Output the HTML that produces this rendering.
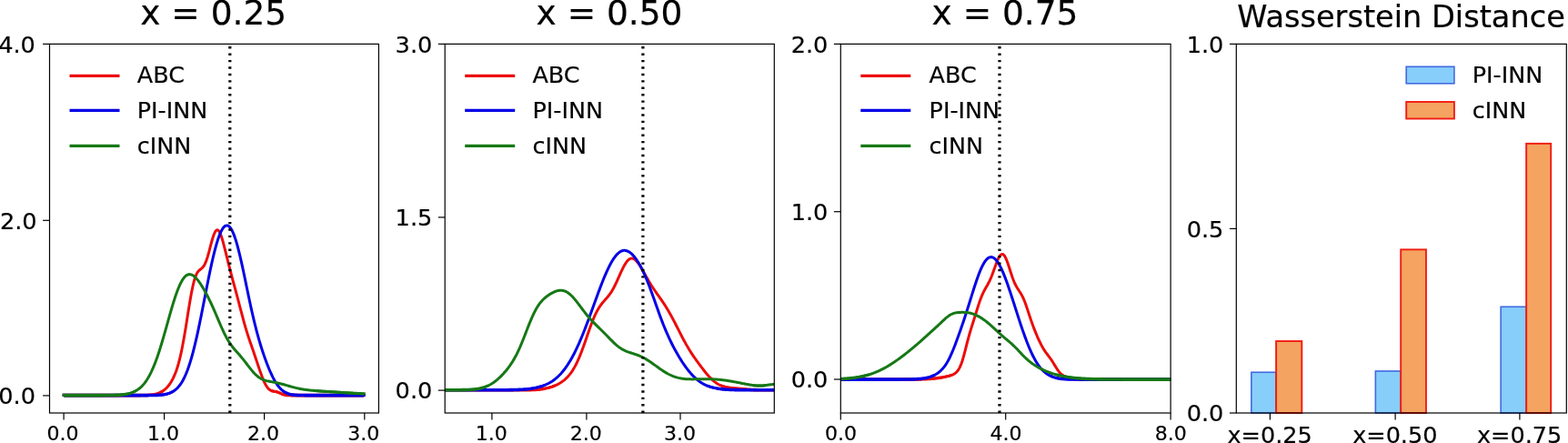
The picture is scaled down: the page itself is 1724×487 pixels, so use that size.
<!DOCTYPE html>
<html lang="en"><head><meta charset="utf-8"><title>Wasserstein Distance</title>
<style>html,body{margin:0;padding:0;background:#fff;overflow:hidden}svg{display:block}</style></head>
<body>
<svg width="1724" height="487" viewBox="0 0 1724 487" font-family='"DejaVu Sans","Liberation Sans",sans-serif' fill="#000">
<style>text{stroke:#000;stroke-width:0.2px;paint-order:stroke fill}</style>
<defs><clipPath id="c0"><rect x="54.5" y="48.4" width="361.90" height="405.60"/></clipPath><clipPath id="c1"><rect x="489.2" y="48.4" width="362.10" height="405.60"/></clipPath><clipPath id="c2"><rect x="924.3" y="48.4" width="362.80" height="405.60"/></clipPath><clipPath id="c3"><rect x="1359.3" y="48.4" width="363.00" height="405.60"/></clipPath></defs>
<rect width="1724" height="487" fill="#fff"/>
<path d="M70.2,434.90 L149.2,434.90 L150.2,434.89 L152.2,434.89 L153.2,434.88 L154.2,434.88 L155.2,434.87 L156.2,434.86 L157.2,434.85 L158.2,434.84 L159.2,434.82 L160.2,434.79 L161.2,434.76 L162.2,434.73 L163.2,434.67 L164.2,434.61 L165.2,434.53 L166.2,434.43 L167.2,434.32 L168.2,434.18 L169.2,434.00 L170.2,433.78 L171.2,433.52 L172.2,433.20 L173.2,432.84 L174.2,432.44 L175.2,431.97 L176.2,431.47 L177.2,430.93 L178.2,430.35 L179.2,429.70" fill="none" stroke="#ec0c0c" stroke-width="3.0" stroke-linejoin="round" stroke-linecap="butt" clip-path="url(#c0)"/>
<path d="M298.2,429.46 L299.2,429.80 L300.2,430.04 L301.2,430.22 L302.2,430.38 L303.2,430.57 L304.2,430.81 L305.2,431.11 L306.2,431.48 L307.2,431.93 L308.2,432.40 L309.2,432.89 L310.2,433.36 L311.2,433.77 L312.2,434.10 L313.2,434.34 L314.2,434.53 L315.2,434.65 L316.2,434.75 L317.2,434.80 L318.2,434.84 L319.2,434.86 L320.2,434.88 L321.2,434.88 L322.2,434.89 L324.2,434.89 L325.2,434.90 L400.2,434.90" fill="none" stroke="#ec0c0c" stroke-width="3.0" stroke-linejoin="round" stroke-linecap="butt" clip-path="url(#c0)"/>
<path d="M70.2,434.30 L152.2,434.29 L153.2,434.28 L156.2,434.26 L158.2,434.24 L159.2,434.22 L160.2,434.19 L161.2,434.16 L162.2,434.13 L163.2,434.08 L164.2,434.02 L165.2,433.95 L166.2,433.86 L167.2,433.76 L168.2,433.64 L169.2,433.49 L170.2,433.31 L171.2,433.10 L172.2,432.85 L173.2,432.56 L174.2,432.23 L175.2,431.84 L176.2,431.40 L177.2,430.90 L178.2,430.34 L179.2,429.70 L180.2,428.98 L181.2,428.18 L182.2,427.30 L183.2,426.32 L184.2,425.24 L185.2,424.05 L186.2,422.74 L187.2,421.31 L188.2,419.73 L189.2,418.01 L190.2,416.11 L191.2,414.02 L192.2,411.72 L193.2,409.18 L194.2,406.38 L195.2,403.29 L196.2,399.89 L197.2,396.14 L198.2,392.05 L199.2,387.58 L200.2,382.75 L201.2,377.56 L202.2,372.03 L203.2,366.21 L204.2,360.14 L205.2,353.92 L206.2,347.60 L207.2,341.31 L208.2,335.13 L209.2,329.19 L210.2,323.59 L211.2,318.42 L212.2,313.76 L213.2,309.68 L214.2,306.22 L215.2,303.36 L216.2,301.09 L217.2,299.34 L218.2,298.03 L219.2,297.03 L220.2,296.23 L221.2,295.47 L222.2,294.64 L223.2,293.58 L224.2,292.21 L225.2,290.43 L226.2,288.21 L227.2,285.54 L228.2,282.44 L229.2,278.98 L230.2,275.28 L231.2,271.44 L232.2,267.62 L233.2,263.98 L234.2,260.65 L235.2,257.78 L236.2,255.48 L237.2,253.86 L238.2,252.97 L239.2,252.84 L240.2,253.46 L241.2,254.80 L242.2,256.81 L243.2,259.39 L244.2,262.46 L245.2,265.91 L246.2,269.65 L247.2,273.58 L248.2,277.62 L249.2,281.69 L250.2,285.76 L251.2,289.77 L252.2,293.71 L253.2,297.58 L254.2,301.37 L255.2,305.11 L256.2,308.81 L257.2,312.49 L258.2,316.17 L259.2,319.88 L260.2,323.61 L261.2,327.38 L262.2,331.18 L263.2,335.01 L264.2,338.84 L265.2,342.66 L266.2,346.45 L267.2,350.18 L268.2,353.82 L269.2,357.37 L270.2,360.82 L271.2,364.14 L272.2,367.35 L273.2,370.46 L274.2,373.48 L275.2,376.43 L276.2,379.33 L277.2,382.21 L278.2,385.09 L279.2,388.00 L280.2,390.93 L281.2,393.90 L282.2,396.89 L283.2,399.91 L284.2,402.92 L285.2,405.89 L286.2,408.81 L287.2,411.62 L288.2,414.31 L289.2,416.84 L290.2,419.17 L291.2,421.30 L292.2,423.19 L293.2,424.83 L294.2,426.23 L295.2,427.37 L296.2,428.28 L297.2,428.96 L298.2,429.46 L299.2,429.80 L300.2,430.03 L301.2,430.21 L302.2,430.37 L303.2,430.55 L304.2,430.78 L305.2,431.07 L306.2,431.41 L307.2,431.80 L308.2,432.20 L309.2,432.60 L310.2,432.97 L311.2,433.30 L312.2,433.57 L313.2,433.78 L314.2,433.95 L315.2,434.06 L316.2,434.15 L317.2,434.20 L318.2,434.24 L319.2,434.26 L320.2,434.28 L321.2,434.28 L322.2,434.29 L400.2,434.30" fill="none" stroke="#ec0c0c" stroke-width="3.0" stroke-linejoin="round" stroke-linecap="square" clip-path="url(#c0)"/>
<path d="M70.2,434.90 L155.2,434.90 L156.2,434.89 L160.2,434.89 L161.2,434.88 L162.2,434.88 L163.2,434.87 L164.2,434.87 L165.2,434.86 L166.2,434.85 L167.2,434.83 L168.2,434.82 L169.2,434.80 L170.2,434.78 L171.2,434.75 L172.2,434.72 L173.2,434.67 L174.2,434.62 L175.2,434.55 L176.2,434.48 L177.2,434.39 L178.2,434.28 L179.2,434.15 L180.2,433.99 L181.2,433.80 L182.2,433.58 L183.2,433.32 L184.2,433.02 L185.2,432.67 L186.2,432.28 L187.2,431.85 L188.2,431.37 L189.2,430.86 L190.2,430.30 L191.2,429.68" fill="none" stroke="#0400e6" stroke-width="3.0" stroke-linejoin="round" stroke-linecap="butt" clip-path="url(#c0)"/>
<path d="M311.2,429.73 L312.2,430.43 L313.2,431.06 L314.2,431.64 L315.2,432.17 L316.2,432.64 L317.2,433.05 L318.2,433.41 L319.2,433.71 L320.2,433.95 L321.2,434.14 L322.2,434.31 L323.2,434.43 L324.2,434.53 L325.2,434.61 L326.2,434.67 L327.2,434.73 L328.2,434.77 L329.2,434.80 L330.2,434.82 L331.2,434.84 L332.2,434.85 L333.2,434.86 L334.2,434.87 L335.2,434.88 L336.2,434.88 L337.2,434.89 L340.2,434.89 L341.2,434.90 L400.2,434.90" fill="none" stroke="#0400e6" stroke-width="3.0" stroke-linejoin="round" stroke-linecap="butt" clip-path="url(#c0)"/>
<path d="M70.2,434.30 L160.2,434.29 L161.2,434.28 L165.2,434.26 L166.2,434.25 L167.2,434.23 L168.2,434.22 L169.2,434.20 L170.2,434.18 L171.2,434.15 L172.2,434.12 L173.2,434.08 L174.2,434.03 L175.2,433.97 L176.2,433.90 L177.2,433.82 L178.2,433.73 L179.2,433.62 L180.2,433.48 L181.2,433.33 L182.2,433.15 L183.2,432.94 L184.2,432.70 L185.2,432.42 L186.2,432.10 L187.2,431.73 L188.2,431.31 L189.2,430.83 L190.2,430.29 L191.2,429.68 L192.2,428.98 L193.2,428.20 L194.2,427.33 L195.2,426.36 L196.2,425.28 L197.2,424.08 L198.2,422.75 L199.2,421.29 L200.2,419.69 L201.2,417.95 L202.2,416.04 L203.2,413.97 L204.2,411.74 L205.2,409.33 L206.2,406.74 L207.2,403.96 L208.2,401.01 L209.2,397.86 L210.2,394.53 L211.2,391.01 L212.2,387.32 L213.2,383.44 L214.2,379.40 L215.2,375.18 L216.2,370.82 L217.2,366.31 L218.2,361.66 L219.2,356.90 L220.2,352.04 L221.2,347.08 L222.2,342.06 L223.2,336.98 L224.2,331.86 L225.2,326.74 L226.2,321.61 L227.2,316.52 L228.2,311.47 L229.2,306.48 L230.2,301.59 L231.2,296.80 L232.2,292.14 L233.2,287.62 L234.2,283.27 L235.2,279.10 L236.2,275.13 L237.2,271.38 L238.2,267.86 L239.2,264.59 L240.2,261.57 L241.2,258.83 L242.2,256.37 L243.2,254.20 L244.2,252.34 L245.2,250.80 L246.2,249.57 L247.2,248.67 L248.2,248.10 L249.2,247.87 L250.2,247.98 L251.2,248.42 L252.2,249.21 L253.2,250.34 L254.2,251.80 L255.2,253.59 L256.2,255.70 L257.2,258.13 L258.2,260.86 L259.2,263.88 L260.2,267.18 L261.2,270.73 L262.2,274.52 L263.2,278.53 L264.2,282.73 L265.2,287.10 L266.2,291.61 L267.2,296.24 L268.2,300.97 L269.2,305.76 L270.2,310.59 L271.2,315.44 L272.2,320.27 L273.2,325.07 L274.2,329.81 L275.2,334.48 L276.2,339.06 L277.2,343.54 L278.2,347.90 L279.2,352.14 L280.2,356.25 L281.2,360.23 L282.2,364.09 L283.2,367.81 L284.2,371.41 L285.2,374.88 L286.2,378.24 L287.2,381.49 L288.2,384.64 L289.2,387.68 L290.2,390.63 L291.2,393.49 L292.2,396.26 L293.2,398.94 L294.2,401.54 L295.2,404.04 L296.2,406.45 L297.2,408.77 L298.2,410.99 L299.2,413.11 L300.2,415.12 L301.2,417.02 L302.2,418.80 L303.2,420.48 L304.2,422.03 L305.2,423.47 L306.2,424.79 L307.2,425.99 L308.2,427.08 L309.2,428.07 L310.2,428.95 L311.2,429.73 L312.2,430.42 L313.2,431.02 L314.2,431.55 L315.2,432.01 L316.2,432.40 L317.2,432.73 L318.2,433.01 L319.2,433.25 L320.2,433.45 L321.2,433.61 L322.2,433.75 L323.2,433.86 L324.2,433.95 L325.2,434.02 L326.2,434.08 L327.2,434.13 L328.2,434.17 L329.2,434.20 L330.2,434.22 L331.2,434.24 L333.2,434.26 L335.2,434.28 L336.2,434.28 L337.2,434.29 L400.2,434.30" fill="none" stroke="#0400e6" stroke-width="3.0" stroke-linejoin="round" stroke-linecap="square" clip-path="url(#c0)"/>
<path d="M70.2,434.90 L105.2,434.90 L106.2,434.89 L111.2,434.89 L112.2,434.88 L114.2,434.88 L115.2,434.87 L116.2,434.87 L117.2,434.86 L118.2,434.85 L119.2,434.85 L120.2,434.84 L121.2,434.82 L122.2,434.81 L123.2,434.79 L124.2,434.77 L125.2,434.75 L126.2,434.72 L127.2,434.68 L128.2,434.64 L129.2,434.60 L130.2,434.54 L131.2,434.48 L132.2,434.41 L133.2,434.32 L134.2,434.23 L135.2,434.11 L136.2,433.96 L137.2,433.82 L138.2,433.63 L139.2,433.42 L140.2,433.19 L141.2,432.92 L142.2,432.62 L143.2,432.30 L144.2,431.95 L145.2,431.56 L146.2,431.15 L147.2,430.71 L148.2,430.23 L149.2,429.71" fill="none" stroke="#167816" stroke-width="3.0" stroke-linejoin="round" stroke-linecap="butt" clip-path="url(#c0)"/>
<path d="M344.2,429.36 L345.2,429.45 L346.2,429.54 L347.2,429.62 L348.2,429.70 L349.2,429.77 L350.2,429.84 L351.2,429.91 L352.2,429.99 L353.2,430.06 L354.2,430.13 L355.2,430.19 L356.2,430.26 L357.2,430.32 L358.2,430.38 L359.2,430.44 L360.2,430.52 L361.2,430.58 L362.2,430.64 L363.2,430.70 L364.2,430.77 L365.2,430.83 L366.2,430.89 L367.2,430.95 L368.2,431.02 L369.2,431.08 L370.2,431.16 L371.2,431.22 L372.2,431.29 L373.2,431.35 L374.2,431.42 L375.2,431.48 L376.2,431.55 L377.2,431.61 L378.2,431.67 L379.2,431.74 L380.2,431.81 L381.2,431.88 L382.2,431.95 L383.2,432.01 L384.2,432.08 L385.2,432.15 L386.2,432.21 L387.2,432.28 L388.2,432.34 L389.2,432.41 L390.2,432.47 L391.2,432.55 L392.2,432.61 L393.2,432.67 L394.2,432.73 L395.2,432.79 L396.2,432.85 L397.2,432.92 L398.2,432.98 L399.2,433.03 L400.2,433.09" fill="none" stroke="#167816" stroke-width="3.0" stroke-linejoin="round" stroke-linecap="butt" clip-path="url(#c0)"/>
<path d="M70.2,434.30 L111.2,434.29 L112.2,434.28 L117.2,434.26 L120.2,434.24 L121.2,434.22 L122.2,434.21 L123.2,434.19 L124.2,434.17 L125.2,434.15 L126.2,434.12 L127.2,434.09 L128.2,434.05 L129.2,434.01 L130.2,433.96 L131.2,433.90 L132.2,433.84 L133.2,433.76 L134.2,433.68 L135.2,433.58 L136.2,433.46 L137.2,433.34 L138.2,433.19 L139.2,433.02 L140.2,432.84 L141.2,432.62 L142.2,432.38 L143.2,432.12 L144.2,431.82 L145.2,431.48 L146.2,431.10 L147.2,430.69 L148.2,430.22 L149.2,429.71 L150.2,429.14 L151.2,428.51 L152.2,427.82 L153.2,427.07 L154.2,426.24 L155.2,425.33 L156.2,424.35 L157.2,423.28 L158.2,422.12 L159.2,420.86 L160.2,419.51 L161.2,418.05 L162.2,416.49 L163.2,414.82 L164.2,413.03 L165.2,411.13 L166.2,409.12 L167.2,406.98 L168.2,404.73 L169.2,402.35 L170.2,399.86 L171.2,397.25 L172.2,394.52 L173.2,391.68 L174.2,388.74 L175.2,385.69 L176.2,382.54 L177.2,379.31 L178.2,376.00 L179.2,372.61 L180.2,369.17 L181.2,365.67 L182.2,362.14 L183.2,358.58 L184.2,355.01 L185.2,351.44 L186.2,347.89 L187.2,344.37 L188.2,340.90 L189.2,337.49 L190.2,334.17 L191.2,330.94 L192.2,327.81 L193.2,324.82 L194.2,321.96 L195.2,319.25 L196.2,316.71 L197.2,314.34 L198.2,312.16 L199.2,310.18 L200.2,308.39 L201.2,306.81 L202.2,305.43 L203.2,304.27 L204.2,303.32 L205.2,302.58 L206.2,302.05 L207.2,301.71 L208.2,301.58 L209.2,301.63 L210.2,301.86 L211.2,302.26 L212.2,302.81 L213.2,303.52 L214.2,304.36 L215.2,305.33 L216.2,306.42 L217.2,307.61 L218.2,308.90 L219.2,310.27 L220.2,311.72 L221.2,313.24 L222.2,314.83 L223.2,316.48 L224.2,318.19 L225.2,319.95 L226.2,321.77 L227.2,323.64 L228.2,325.56 L229.2,327.54 L230.2,329.56 L231.2,331.64 L232.2,333.76 L233.2,335.94 L234.2,338.15 L235.2,340.41 L236.2,342.70 L237.2,345.02 L238.2,347.36 L239.2,349.71 L240.2,352.06 L241.2,354.40 L242.2,356.72 L243.2,359.00 L244.2,361.24 L245.2,363.42 L246.2,365.53 L247.2,367.57 L248.2,369.52 L249.2,371.39 L250.2,373.16 L251.2,374.85 L252.2,376.44 L253.2,377.94 L254.2,379.37 L255.2,380.72 L256.2,382.00 L257.2,383.23 L258.2,384.42 L259.2,385.57 L260.2,386.70 L261.2,387.83 L262.2,388.95 L263.2,390.09 L264.2,391.24 L265.2,392.41 L266.2,393.61 L267.2,394.84 L268.2,396.09 L269.2,397.37 L270.2,398.67 L271.2,399.98 L272.2,401.29 L273.2,402.60 L274.2,403.90 L275.2,405.18 L276.2,406.43 L277.2,407.64 L278.2,408.80 L279.2,409.91 L280.2,410.96 L281.2,411.94 L282.2,412.85 L283.2,413.70 L284.2,414.47 L285.2,415.16 L286.2,415.79 L287.2,416.36 L288.2,416.86 L289.2,417.30 L290.2,417.69 L291.2,418.04 L292.2,418.34 L293.2,418.61 L294.2,418.85 L295.2,419.07 L296.2,419.27 L297.2,419.46 L298.2,419.65 L299.2,419.83 L300.2,420.01 L301.2,420.19 L302.2,420.38 L303.2,420.57 L304.2,420.78 L305.2,420.99 L306.2,421.22 L307.2,421.46 L308.2,421.70 L309.2,421.96 L310.2,422.22 L311.2,422.49 L312.2,422.77 L313.2,423.06 L314.2,423.34 L315.2,423.63 L316.2,423.92 L317.2,424.21 L318.2,424.50 L319.2,424.79 L320.2,425.07 L321.2,425.34 L322.2,425.61 L323.2,425.88 L324.2,426.13 L325.2,426.38 L326.2,426.61 L327.2,426.84 L328.2,427.06 L329.2,427.27 L330.2,427.47 L331.2,427.66 L332.2,427.84 L333.2,428.01 L334.2,428.17 L335.2,428.32 L336.2,428.46 L337.2,428.60 L338.2,428.73 L339.2,428.85 L340.2,428.96 L341.2,429.07 L342.2,429.17 L343.2,429.27 L344.2,429.36 L345.2,429.45 L346.2,429.54 L347.2,429.62 L348.2,429.70 L349.2,429.77 L350.2,429.84 L351.2,429.91 L352.2,429.98 L353.2,430.05 L354.2,430.12 L355.2,430.18 L356.2,430.25 L357.2,430.31 L358.2,430.37 L359.2,430.43 L360.2,430.50 L361.2,430.56 L362.2,430.62 L363.2,430.68 L364.2,430.74 L365.2,430.80 L366.2,430.86 L367.2,430.92 L368.2,430.98 L369.2,431.04 L370.2,431.11 L371.2,431.17 L372.2,431.23 L373.2,431.29 L374.2,431.35 L375.2,431.41 L376.2,431.47 L377.2,431.52 L378.2,431.58 L379.2,431.64 L380.2,431.70 L381.2,431.76 L382.2,431.82 L383.2,431.87 L384.2,431.93 L385.2,431.99 L386.2,432.04 L387.2,432.10 L388.2,432.15 L389.2,432.21 L390.2,432.26 L391.2,432.32 L392.2,432.37 L393.2,432.42 L394.2,432.47 L395.2,432.52 L396.2,432.57 L397.2,432.62 L398.2,432.67 L399.2,432.71 L400.2,432.76" fill="none" stroke="#167816" stroke-width="3.0" stroke-linejoin="round" stroke-linecap="square" clip-path="url(#c0)"/>
<line x1="252.8" y1="43.685" x2="252.8" y2="454.0" stroke="#000" stroke-width="3.2" stroke-dasharray="2.4 5.015" clip-path="url(#c0)"/>
<path d="M489.0,429.10 L563.0,429.10 L564.0,429.09 L569.0,429.09 L570.0,429.08 L571.0,429.08 L572.0,429.07 L573.0,429.07 L574.0,429.06 L575.0,429.06 L576.0,429.05 L577.0,429.04 L578.0,429.03 L579.0,429.01 L580.0,429.00 L581.0,428.98 L582.0,428.96 L583.0,428.93 L584.0,428.89 L585.0,428.86 L586.0,428.82 L587.0,428.78 L588.0,428.72 L589.0,428.67 L590.0,428.59 L591.0,428.52 L592.0,428.43 L593.0,428.32 L594.0,428.20 L595.0,428.07 L596.0,427.92 L597.0,427.76 L598.0,427.57 L599.0,427.37 L600.0,427.14 L601.0,426.91 L602.0,426.64 L603.0,426.36 L604.0,426.07 L605.0,425.76 L606.0,425.43 L607.0,425.10 L608.0,424.74 L609.0,424.36 L610.0,423.96 L611.0,423.54" fill="none" stroke="#ec0c0c" stroke-width="3.0" stroke-linejoin="round" stroke-linecap="butt" clip-path="url(#c1)"/>
<path d="M793.0,423.93 L794.0,424.33 L795.0,424.68 L796.0,424.99 L797.0,425.28 L798.0,425.53 L799.0,425.76 L800.0,425.98 L801.0,426.16 L802.0,426.32 L803.0,426.47 L804.0,426.60 L805.0,426.72 L806.0,426.83 L807.0,426.93 L808.0,427.03 L809.0,427.13 L810.0,427.23 L811.0,427.32 L812.0,427.42 L813.0,427.52 L814.0,427.63 L815.0,427.73 L816.0,427.84 L817.0,427.95 L818.0,428.05 L819.0,428.16 L820.0,428.27 L821.0,428.37 L822.0,428.45 L823.0,428.54 L824.0,428.61 L825.0,428.69 L826.0,428.74 L827.0,428.80 L828.0,428.85 L829.0,428.89 L830.0,428.93 L831.0,428.96 L832.0,428.98 L833.0,429.00 L834.0,429.02 L835.0,429.03 L836.0,429.05 L837.0,429.06 L838.0,429.06 L839.0,429.07 L840.0,429.08 L842.0,429.08 L843.0,429.09 L849.0,429.09 L850.0,429.10 L852.0,429.10" fill="none" stroke="#ec0c0c" stroke-width="3.0" stroke-linejoin="round" stroke-linecap="butt" clip-path="url(#c1)"/>
<path d="M489.0,428.50 L570.0,428.48 L573.0,428.47 L574.0,428.46 L577.0,428.44 L578.0,428.43 L579.0,428.41 L580.0,428.40 L581.0,428.38 L582.0,428.36 L583.0,428.33 L584.0,428.30 L585.0,428.27 L586.0,428.23 L587.0,428.19 L588.0,428.14 L589.0,428.09 L590.0,428.02 L591.0,427.96 L592.0,427.88 L593.0,427.79 L594.0,427.69 L595.0,427.58 L596.0,427.46 L597.0,427.33 L598.0,427.18 L599.0,427.02 L600.0,426.84 L601.0,426.65 L602.0,426.43 L603.0,426.20 L604.0,425.95 L605.0,425.68 L606.0,425.38 L607.0,425.07 L608.0,424.72 L609.0,424.35 L610.0,423.96 L611.0,423.54 L612.0,423.08 L613.0,422.60 L614.0,422.08 L615.0,421.52 L616.0,420.93 L617.0,420.29 L618.0,419.62 L619.0,418.89 L620.0,418.11 L621.0,417.28 L622.0,416.39 L623.0,415.44 L624.0,414.42 L625.0,413.32 L626.0,412.14 L627.0,410.88 L628.0,409.53 L629.0,408.08 L630.0,406.53 L631.0,404.88 L632.0,403.12 L633.0,401.24 L634.0,399.25 L635.0,397.15 L636.0,394.93 L637.0,392.61 L638.0,390.17 L639.0,387.64 L640.0,385.01 L641.0,382.31 L642.0,379.53 L643.0,376.70 L644.0,373.83 L645.0,370.94 L646.0,368.04 L647.0,365.16 L648.0,362.32 L649.0,359.52 L650.0,356.80 L651.0,354.17 L652.0,351.64 L653.0,349.23 L654.0,346.95 L655.0,344.81 L656.0,342.80 L657.0,340.93 L658.0,339.21 L659.0,337.61 L660.0,336.13 L661.0,334.76 L662.0,333.48 L663.0,332.27 L664.0,331.11 L665.0,329.98 L666.0,328.86 L667.0,327.72 L668.0,326.54 L669.0,325.31 L670.0,323.99 L671.0,322.59 L672.0,321.09 L673.0,319.47 L674.0,317.74 L675.0,315.91 L676.0,313.96 L677.0,311.92 L678.0,309.80 L679.0,307.62 L680.0,305.39 L681.0,303.15 L682.0,300.92 L683.0,298.72 L684.0,296.58 L685.0,294.54 L686.0,292.62 L687.0,290.85 L688.0,289.24 L689.0,287.82 L690.0,286.62 L691.0,285.63 L692.0,284.88 L693.0,284.37 L694.0,284.10 L695.0,284.07 L696.0,284.27 L697.0,284.71 L698.0,285.35 L699.0,286.20 L700.0,287.23 L701.0,288.42 L702.0,289.76 L703.0,291.22 L704.0,292.78 L705.0,294.43 L706.0,296.14 L707.0,297.89 L708.0,299.67 L709.0,301.47 L710.0,303.26 L711.0,305.03 L712.0,306.78 L713.0,308.50 L714.0,310.19 L715.0,311.84 L716.0,313.44 L717.0,315.01 L718.0,316.54 L719.0,318.04 L720.0,319.51 L721.0,320.95 L722.0,322.38 L723.0,323.79 L724.0,325.20 L725.0,326.61 L726.0,328.02 L727.0,329.46 L728.0,330.91 L729.0,332.38 L730.0,333.89 L731.0,335.42 L732.0,337.00 L733.0,338.61 L734.0,340.26 L735.0,341.95 L736.0,343.68 L737.0,345.45 L738.0,347.26 L739.0,349.10 L740.0,350.97 L741.0,352.87 L742.0,354.80 L743.0,356.74 L744.0,358.70 L745.0,360.67 L746.0,362.64 L747.0,364.60 L748.0,366.56 L749.0,368.51 L750.0,370.44 L751.0,372.34 L752.0,374.21 L753.0,376.05 L754.0,377.86 L755.0,379.62 L756.0,381.35 L757.0,383.03 L758.0,384.67 L759.0,386.27 L760.0,387.83 L761.0,389.36 L762.0,390.85 L763.0,392.31 L764.0,393.75 L765.0,395.16 L766.0,396.56 L767.0,397.94 L768.0,399.30 L769.0,400.65 L770.0,401.99 L771.0,403.32 L772.0,404.64 L773.0,405.94 L774.0,407.23 L775.0,408.49 L776.0,409.74 L777.0,410.95 L778.0,412.13 L779.0,413.27 L780.0,414.36 L781.0,415.42 L782.0,416.42 L783.0,417.37 L784.0,418.27 L785.0,419.12 L786.0,419.91 L787.0,420.64 L788.0,421.32 L789.0,421.94 L790.0,422.51 L791.0,423.03 L792.0,423.50 L793.0,423.93 L794.0,424.32 L795.0,424.66 L796.0,424.96 L797.0,425.24 L798.0,425.47 L799.0,425.68 L800.0,425.87 L801.0,426.03 L802.0,426.17 L803.0,426.29 L804.0,426.40 L805.0,426.50 L806.0,426.59 L807.0,426.67 L808.0,426.75 L809.0,426.83 L810.0,426.91 L811.0,426.98 L812.0,427.06 L813.0,427.14 L814.0,427.23 L815.0,427.31 L816.0,427.40 L817.0,427.49 L818.0,427.57 L819.0,427.66 L820.0,427.75 L821.0,427.83 L822.0,427.90 L823.0,427.98 L824.0,428.04 L825.0,428.11 L826.0,428.16 L827.0,428.21 L828.0,428.26 L829.0,428.30 L830.0,428.33 L831.0,428.36 L832.0,428.38 L833.0,428.40 L834.0,428.42 L835.0,428.43 L836.0,428.45 L838.0,428.46 L839.0,428.47 L843.0,428.49 L852.0,428.50" fill="none" stroke="#ec0c0c" stroke-width="3.0" stroke-linejoin="round" stroke-linecap="square" clip-path="url(#c1)"/>
<path d="M489.0,429.10 L533.0,429.10 L534.0,429.09 L542.0,429.09 L543.0,429.08 L546.0,429.08 L547.0,429.07 L548.0,429.07 L549.0,429.06 L551.0,429.06 L552.0,429.05 L553.0,429.04 L554.0,429.04 L555.0,429.03 L556.0,429.02 L557.0,429.01 L558.0,429.00 L559.0,428.99 L560.0,428.97 L561.0,428.96 L562.0,428.94 L563.0,428.92 L564.0,428.89 L565.0,428.87 L566.0,428.84 L567.0,428.82 L568.0,428.79 L569.0,428.74 L570.0,428.70 L571.0,428.65 L572.0,428.61 L573.0,428.55 L574.0,428.49 L575.0,428.43 L576.0,428.34 L577.0,428.26 L578.0,428.18 L579.0,428.07 L580.0,427.95 L581.0,427.83 L582.0,427.69 L583.0,427.56 L584.0,427.39 L585.0,427.22 L586.0,427.03 L587.0,426.83 L588.0,426.61 L589.0,426.38 L590.0,426.15 L591.0,425.90 L592.0,425.63 L593.0,425.35 L594.0,425.06 L595.0,424.75 L596.0,424.43 L597.0,424.08 L598.0,423.71" fill="none" stroke="#0400e6" stroke-width="3.0" stroke-linejoin="round" stroke-linecap="butt" clip-path="url(#c1)"/>
<path d="M777.0,423.77 L778.0,424.18 L779.0,424.55 L780.0,424.91 L781.0,425.25 L782.0,425.56 L783.0,425.86 L784.0,426.14 L785.0,426.41 L786.0,426.66 L787.0,426.88 L788.0,427.10 L789.0,427.30 L790.0,427.48 L791.0,427.64 L792.0,427.79 L793.0,427.93 L794.0,428.05 L795.0,428.16 L796.0,428.26 L797.0,428.34 L798.0,428.43 L799.0,428.49 L800.0,428.56 L801.0,428.62 L802.0,428.67 L803.0,428.71 L804.0,428.75 L805.0,428.79 L806.0,428.82 L807.0,428.85 L808.0,428.88 L809.0,428.90 L810.0,428.93 L811.0,428.95 L812.0,428.96 L813.0,428.98 L814.0,428.99 L815.0,429.00 L816.0,429.01 L817.0,429.02 L818.0,429.03 L819.0,429.04 L820.0,429.05 L821.0,429.05 L822.0,429.06 L823.0,429.06 L824.0,429.07 L826.0,429.07 L827.0,429.08 L830.0,429.08 L831.0,429.09 L838.0,429.09 L839.0,429.10 L852.0,429.10" fill="none" stroke="#0400e6" stroke-width="3.0" stroke-linejoin="round" stroke-linecap="butt" clip-path="url(#c1)"/>
<path d="M489.0,428.50 L543.0,428.48 L548.0,428.47 L549.0,428.46 L553.0,428.44 L556.0,428.42 L557.0,428.41 L558.0,428.40 L559.0,428.39 L560.0,428.37 L561.0,428.36 L562.0,428.34 L563.0,428.32 L564.0,428.30 L565.0,428.28 L566.0,428.25 L567.0,428.23 L568.0,428.20 L569.0,428.16 L570.0,428.12 L571.0,428.08 L572.0,428.04 L573.0,427.99 L574.0,427.94 L575.0,427.88 L576.0,427.81 L577.0,427.74 L578.0,427.67 L579.0,427.58 L580.0,427.49 L581.0,427.39 L582.0,427.28 L583.0,427.17 L584.0,427.04 L585.0,426.90 L586.0,426.75 L587.0,426.59 L588.0,426.41 L589.0,426.22 L590.0,426.02 L591.0,425.80 L592.0,425.56 L593.0,425.30 L594.0,425.03 L595.0,424.73 L596.0,424.42 L597.0,424.08 L598.0,423.71 L599.0,423.32 L600.0,422.91 L601.0,422.47 L602.0,421.99 L603.0,421.49 L604.0,420.95 L605.0,420.39 L606.0,419.78 L607.0,419.14 L608.0,418.46 L609.0,417.74 L610.0,416.98 L611.0,416.18 L612.0,415.33 L613.0,414.44 L614.0,413.50 L615.0,412.51 L616.0,411.48 L617.0,410.39 L618.0,409.24 L619.0,408.05 L620.0,406.80 L621.0,405.49 L622.0,404.13 L623.0,402.70 L624.0,401.22 L625.0,399.68 L626.0,398.08 L627.0,396.42 L628.0,394.70 L629.0,392.92 L630.0,391.08 L631.0,389.18 L632.0,387.21 L633.0,385.19 L634.0,383.11 L635.0,380.97 L636.0,378.78 L637.0,376.53 L638.0,374.22 L639.0,371.87 L640.0,369.46 L641.0,367.01 L642.0,364.51 L643.0,361.97 L644.0,359.39 L645.0,356.78 L646.0,354.13 L647.0,351.45 L648.0,348.75 L649.0,346.03 L650.0,343.28 L651.0,340.53 L652.0,337.77 L653.0,335.00 L654.0,332.23 L655.0,329.48 L656.0,326.73 L657.0,324.00 L658.0,321.29 L659.0,318.61 L660.0,315.96 L661.0,313.35 L662.0,310.78 L663.0,308.27 L664.0,305.81 L665.0,303.41 L666.0,301.07 L667.0,298.81 L668.0,296.63 L669.0,294.53 L670.0,292.51 L671.0,290.59 L672.0,288.76 L673.0,287.04 L674.0,285.42 L675.0,283.91 L676.0,282.52 L677.0,281.24 L678.0,280.08 L679.0,279.04 L680.0,278.13 L681.0,277.34 L682.0,276.69 L683.0,276.16 L684.0,275.76 L685.0,275.49 L686.0,275.35 L687.0,275.34 L688.0,275.46 L689.0,275.69 L690.0,276.06 L691.0,276.54 L692.0,277.13 L693.0,277.84 L694.0,278.66 L695.0,279.59 L696.0,280.62 L697.0,281.75 L698.0,282.98 L699.0,284.30 L700.0,285.72 L701.0,287.22 L702.0,288.82 L703.0,290.51 L704.0,292.29 L705.0,294.15 L706.0,296.11 L707.0,298.15 L708.0,300.28 L709.0,302.50 L710.0,304.80 L711.0,307.18 L712.0,309.64 L713.0,312.18 L714.0,314.78 L715.0,317.45 L716.0,320.16 L717.0,322.92 L718.0,325.72 L719.0,328.53 L720.0,331.37 L721.0,334.20 L722.0,337.03 L723.0,339.84 L724.0,342.63 L725.0,345.39 L726.0,348.11 L727.0,350.78 L728.0,353.40 L729.0,355.97 L730.0,358.48 L731.0,360.93 L732.0,363.33 L733.0,365.66 L734.0,367.94 L735.0,370.16 L736.0,372.32 L737.0,374.43 L738.0,376.49 L739.0,378.50 L740.0,380.46 L741.0,382.37 L742.0,384.24 L743.0,386.07 L744.0,387.85 L745.0,389.59 L746.0,391.30 L747.0,392.96 L748.0,394.59 L749.0,396.17 L750.0,397.72 L751.0,399.24 L752.0,400.71 L753.0,402.14 L754.0,403.54 L755.0,404.89 L756.0,406.20 L757.0,407.47 L758.0,408.70 L759.0,409.89 L760.0,411.03 L761.0,412.12 L762.0,413.17 L763.0,414.18 L764.0,415.14 L765.0,416.06 L766.0,416.93 L767.0,417.76 L768.0,418.54 L769.0,419.28 L770.0,419.98 L771.0,420.64 L772.0,421.25 L773.0,421.83 L774.0,422.37 L775.0,422.87 L776.0,423.34 L777.0,423.77 L778.0,424.17 L779.0,424.54 L780.0,424.89 L781.0,425.21 L782.0,425.50 L783.0,425.77 L784.0,426.01 L785.0,426.24 L786.0,426.45 L787.0,426.63 L788.0,426.81 L789.0,426.97 L790.0,427.11 L791.0,427.24 L792.0,427.36 L793.0,427.47 L794.0,427.57 L795.0,427.66 L796.0,427.74 L797.0,427.81 L798.0,427.88 L799.0,427.94 L800.0,428.00 L801.0,428.05 L802.0,428.09 L803.0,428.13 L804.0,428.17 L805.0,428.20 L806.0,428.23 L807.0,428.26 L808.0,428.29 L809.0,428.31 L810.0,428.33 L811.0,428.35 L812.0,428.36 L813.0,428.38 L815.0,428.40 L816.0,428.41 L818.0,428.43 L820.0,428.45 L823.0,428.46 L824.0,428.47 L831.0,428.49 L852.0,428.50" fill="none" stroke="#0400e6" stroke-width="3.0" stroke-linejoin="round" stroke-linecap="square" clip-path="url(#c1)"/>
<path d="M489.0,429.09 L492.0,429.09 L493.0,429.08 L495.0,429.08 L496.0,429.07 L498.0,429.07 L499.0,429.06 L500.0,429.06 L501.0,429.05 L502.0,429.04 L503.0,429.03 L504.0,429.03 L505.0,429.01 L506.0,429.00 L507.0,428.99 L508.0,428.97 L509.0,428.95 L510.0,428.93 L511.0,428.90 L512.0,428.87 L513.0,428.84 L514.0,428.81 L515.0,428.76 L516.0,428.71 L517.0,428.65 L518.0,428.59 L519.0,428.51 L520.0,428.41 L521.0,428.32 L522.0,428.20 L523.0,428.07 L524.0,427.91 L525.0,427.73 L526.0,427.53 L527.0,427.32 L528.0,427.07 L529.0,426.79 L530.0,426.49 L531.0,426.17 L532.0,425.84 L533.0,425.48 L534.0,425.09 L535.0,424.69 L536.0,424.25 L537.0,423.78" fill="none" stroke="#167816" stroke-width="3.0" stroke-linejoin="round" stroke-linecap="butt" clip-path="url(#c1)"/>
<path d="M828.0,423.52 L829.0,423.65 L830.0,423.77 L831.0,423.87 L832.0,423.95 L833.0,424.01 L834.0,424.05 L835.0,424.06 L836.0,424.06 L837.0,424.03 L838.0,423.97 L839.0,423.89 L840.0,423.79 L841.0,423.67 L842.0,423.54" fill="none" stroke="#167816" stroke-width="3.0" stroke-linejoin="round" stroke-linecap="butt" clip-path="url(#c1)"/>
<path d="M489.0,428.49 L496.0,428.47 L498.0,428.47 L499.0,428.46 L502.0,428.44 L504.0,428.43 L505.0,428.41 L506.0,428.40 L507.0,428.39 L508.0,428.37 L509.0,428.35 L510.0,428.33 L511.0,428.31 L512.0,428.28 L513.0,428.25 L514.0,428.22 L515.0,428.18 L516.0,428.13 L517.0,428.08 L518.0,428.02 L519.0,427.95 L520.0,427.87 L521.0,427.79 L522.0,427.69 L523.0,427.58 L524.0,427.45 L525.0,427.31 L526.0,427.15 L527.0,426.98 L528.0,426.78 L529.0,426.56 L530.0,426.31 L531.0,426.04 L532.0,425.75 L533.0,425.42 L534.0,425.06 L535.0,424.67 L536.0,424.24 L537.0,423.78 L538.0,423.28 L539.0,422.75 L540.0,422.18 L541.0,421.57 L542.0,420.92 L543.0,420.23 L544.0,419.50 L545.0,418.74 L546.0,417.94 L547.0,417.10 L548.0,416.22 L549.0,415.31 L550.0,414.37 L551.0,413.39 L552.0,412.37 L553.0,411.32 L554.0,410.24 L555.0,409.11 L556.0,407.95 L557.0,406.74 L558.0,405.49 L559.0,404.19 L560.0,402.84 L561.0,401.43 L562.0,399.96 L563.0,398.42 L564.0,396.82 L565.0,395.13 L566.0,393.36 L567.0,391.52 L568.0,389.58 L569.0,387.56 L570.0,385.45 L571.0,383.26 L572.0,380.99 L573.0,378.64 L574.0,376.23 L575.0,373.75 L576.0,371.23 L577.0,368.68 L578.0,366.10 L579.0,363.52 L580.0,360.95 L581.0,358.40 L582.0,355.90 L583.0,353.45 L584.0,351.06 L585.0,348.77 L586.0,346.56 L587.0,344.46 L588.0,342.46 L589.0,340.58 L590.0,338.81 L591.0,337.16 L592.0,335.63 L593.0,334.20 L594.0,332.88 L595.0,331.66 L596.0,330.53 L597.0,329.49 L598.0,328.52 L599.0,327.61 L600.0,326.77 L601.0,325.98 L602.0,325.23 L603.0,324.53 L604.0,323.86 L605.0,323.23 L606.0,322.64 L607.0,322.08 L608.0,321.56 L609.0,321.08 L610.0,320.64 L611.0,320.25 L612.0,319.91 L613.0,319.63 L614.0,319.41 L615.0,319.26 L616.0,319.19 L617.0,319.19 L618.0,319.27 L619.0,319.43 L620.0,319.68 L621.0,320.01 L622.0,320.44 L623.0,320.95 L624.0,321.55 L625.0,322.23 L626.0,323.00 L627.0,323.85 L628.0,324.77 L629.0,325.76 L630.0,326.82 L631.0,327.93 L632.0,329.10 L633.0,330.32 L634.0,331.57 L635.0,332.86 L636.0,334.17 L637.0,335.49 L638.0,336.83 L639.0,338.17 L640.0,339.51 L641.0,340.84 L642.0,342.15 L643.0,343.45 L644.0,344.72 L645.0,345.97 L646.0,347.19 L647.0,348.37 L648.0,349.53 L649.0,350.66 L650.0,351.76 L651.0,352.83 L652.0,353.88 L653.0,354.91 L654.0,355.91 L655.0,356.90 L656.0,357.88 L657.0,358.86 L658.0,359.83 L659.0,360.79 L660.0,361.77 L661.0,362.74 L662.0,363.73 L663.0,364.72 L664.0,365.73 L665.0,366.74 L666.0,367.76 L667.0,368.79 L668.0,369.82 L669.0,370.86 L670.0,371.89 L671.0,372.92 L672.0,373.93 L673.0,374.93 L674.0,375.92 L675.0,376.87 L676.0,377.80 L677.0,378.70 L678.0,379.56 L679.0,380.39 L680.0,381.17 L681.0,381.91 L682.0,382.60 L683.0,383.25 L684.0,383.86 L685.0,384.42 L686.0,384.95 L687.0,385.43 L688.0,385.88 L689.0,386.30 L690.0,386.69 L691.0,387.05 L692.0,387.40 L693.0,387.73 L694.0,388.05 L695.0,388.36 L696.0,388.67 L697.0,388.99 L698.0,389.31 L699.0,389.64 L700.0,389.99 L701.0,390.35 L702.0,390.73 L703.0,391.13 L704.0,391.56 L705.0,392.01 L706.0,392.48 L707.0,392.98 L708.0,393.51 L709.0,394.06 L710.0,394.64 L711.0,395.24 L712.0,395.86 L713.0,396.50 L714.0,397.16 L715.0,397.83 L716.0,398.53 L717.0,399.23 L718.0,399.94 L719.0,400.66 L720.0,401.39 L721.0,402.12 L722.0,402.84 L723.0,403.57 L724.0,404.29 L725.0,405.00 L726.0,405.70 L727.0,406.39 L728.0,407.07 L729.0,407.72 L730.0,408.37 L731.0,408.99 L732.0,409.59 L733.0,410.17 L734.0,410.73 L735.0,411.26 L736.0,411.76 L737.0,412.25 L738.0,412.70 L739.0,413.13 L740.0,413.53 L741.0,413.91 L742.0,414.26 L743.0,414.58 L744.0,414.88 L745.0,415.16 L746.0,415.41 L747.0,415.63 L748.0,415.84 L749.0,416.02 L750.0,416.18 L751.0,416.32 L752.0,416.44 L753.0,416.55 L754.0,416.64 L755.0,416.71 L756.0,416.77 L757.0,416.81 L758.0,416.85 L759.0,416.87 L761.0,416.89 L764.0,416.87 L765.0,416.85 L766.0,416.84 L767.0,416.81 L768.0,416.79 L769.0,416.77 L770.0,416.75 L771.0,416.73 L772.0,416.71 L773.0,416.69 L775.0,416.67 L779.0,416.69 L780.0,416.71 L781.0,416.73 L782.0,416.77 L783.0,416.80 L784.0,416.85 L785.0,416.90 L786.0,416.96 L787.0,417.03 L788.0,417.10 L789.0,417.18 L790.0,417.27 L791.0,417.37 L792.0,417.47 L793.0,417.58 L794.0,417.69 L795.0,417.81 L796.0,417.94 L797.0,418.08 L798.0,418.22 L799.0,418.36 L800.0,418.52 L801.0,418.67 L802.0,418.83 L803.0,419.00 L804.0,419.17 L805.0,419.34 L806.0,419.52 L807.0,419.70 L808.0,419.88 L809.0,420.07 L810.0,420.26 L811.0,420.45 L812.0,420.64 L813.0,420.83 L814.0,421.03 L815.0,421.22 L816.0,421.41 L817.0,421.61 L818.0,421.80 L819.0,421.99 L820.0,422.18 L821.0,422.37 L822.0,422.55 L823.0,422.73 L824.0,422.90 L825.0,423.07 L826.0,423.23 L827.0,423.38 L828.0,423.52 L829.0,423.65 L830.0,423.77 L831.0,423.87 L832.0,423.95 L833.0,424.01 L834.0,424.05 L836.0,424.06 L837.0,424.03 L838.0,423.97 L839.0,423.89 L840.0,423.79 L841.0,423.67 L842.0,423.54 L843.0,423.39 L844.0,423.24 L845.0,423.09 L846.0,422.95 L847.0,422.82 L848.0,422.71 L849.0,422.62 L850.0,422.57 L851.0,422.55 L852.0,422.57" fill="none" stroke="#167816" stroke-width="3.0" stroke-linejoin="round" stroke-linecap="square" clip-path="url(#c1)"/>
<line x1="706.9" y1="43.685" x2="706.9" y2="454.0" stroke="#000" stroke-width="3.2" stroke-dasharray="2.4 5.015" clip-path="url(#c1)"/>
<path d="M924.0,417.40 L981.0,417.40 L982.0,417.39 L989.0,417.39 L990.0,417.38 L993.0,417.38 L994.0,417.37 L996.0,417.37 L997.0,417.36 L998.0,417.36 L999.0,417.35 L1000.0,417.34 L1001.0,417.34 L1002.0,417.33 L1003.0,417.32 L1004.0,417.31 L1005.0,417.30 L1006.0,417.29 L1007.0,417.27 L1008.0,417.26 L1009.0,417.24 L1010.0,417.22 L1011.0,417.19 L1012.0,417.17 L1013.0,417.15 L1014.0,417.12 L1015.0,417.09 L1016.0,417.05 L1017.0,417.01 L1018.0,416.97 L1019.0,416.92 L1020.0,416.86 L1021.0,416.81 L1022.0,416.74 L1023.0,416.67 L1024.0,416.60 L1025.0,416.51 L1026.0,416.41 L1027.0,416.32 L1028.0,416.21 L1029.0,416.09 L1030.0,415.96 L1031.0,415.82 L1032.0,415.68 L1033.0,415.52 L1034.0,415.34 L1035.0,415.17 L1036.0,414.98 L1037.0,414.78 L1038.0,414.57 L1039.0,414.36 L1040.0,414.13 L1041.0,413.89 L1042.0,413.64 L1043.0,413.37 L1044.0,413.09 L1045.0,412.78 L1046.0,412.44 L1047.0,412.05" fill="none" stroke="#ec0c0c" stroke-width="3.0" stroke-linejoin="round" stroke-linecap="butt" clip-path="url(#c2)"/>
<path d="M1168.0,412.24 L1169.0,412.94 L1170.0,413.55 L1171.0,414.08 L1172.0,414.55 L1173.0,414.96 L1174.0,415.32 L1175.0,415.62 L1176.0,415.88 L1177.0,416.11 L1178.0,416.29 L1179.0,416.45 L1180.0,416.58 L1181.0,416.70 L1182.0,416.79 L1183.0,416.89 L1184.0,416.95 L1185.0,417.01 L1186.0,417.06 L1187.0,417.11 L1188.0,417.15 L1189.0,417.18 L1190.0,417.20 L1191.0,417.24 L1192.0,417.26 L1193.0,417.28 L1194.0,417.29 L1195.0,417.30 L1196.0,417.32 L1197.0,417.33 L1198.0,417.34 L1199.0,417.34 L1200.0,417.35 L1201.0,417.36 L1202.0,417.36 L1203.0,417.37 L1205.0,417.37 L1206.0,417.38 L1209.0,417.38 L1210.0,417.39 L1216.0,417.39 L1217.0,417.40 L1288.0,417.40" fill="none" stroke="#ec0c0c" stroke-width="3.0" stroke-linejoin="round" stroke-linecap="butt" clip-path="url(#c2)"/>
<path d="M924.0,416.80 L989.0,416.79 L990.0,416.78 L997.0,416.76 L1000.0,416.74 L1003.0,416.72 L1004.0,416.71 L1006.0,416.69 L1007.0,416.67 L1008.0,416.66 L1009.0,416.64 L1010.0,416.62 L1011.0,416.60 L1012.0,416.58 L1013.0,416.56 L1014.0,416.53 L1015.0,416.50 L1016.0,416.47 L1017.0,416.43 L1018.0,416.39 L1019.0,416.35 L1020.0,416.30 L1021.0,416.25 L1022.0,416.19 L1023.0,416.13 L1024.0,416.07 L1025.0,416.00 L1026.0,415.92 L1027.0,415.84 L1028.0,415.75 L1029.0,415.66 L1030.0,415.55 L1031.0,415.44 L1032.0,415.33 L1033.0,415.20 L1034.0,415.06 L1035.0,414.92 L1036.0,414.77 L1037.0,414.60 L1038.0,414.42 L1039.0,414.24 L1040.0,414.04 L1041.0,413.82 L1042.0,413.59 L1043.0,413.34 L1044.0,413.07 L1045.0,412.77 L1046.0,412.43 L1047.0,412.05 L1048.0,411.62 L1049.0,411.10 L1050.0,410.48 L1051.0,409.71 L1052.0,408.77 L1053.0,407.59 L1054.0,406.14 L1055.0,404.36 L1056.0,402.22 L1057.0,399.68 L1058.0,396.76 L1059.0,393.47 L1060.0,389.88 L1061.0,386.07 L1062.0,382.14 L1063.0,378.19 L1064.0,374.30 L1065.0,370.56 L1066.0,366.99 L1067.0,363.59 L1068.0,360.33 L1069.0,357.17 L1070.0,354.04 L1071.0,350.91 L1072.0,347.73 L1073.0,344.51 L1074.0,341.27 L1075.0,338.05 L1076.0,334.91 L1077.0,331.89 L1078.0,329.05 L1079.0,326.42 L1080.0,324.01 L1081.0,321.81 L1082.0,319.81 L1083.0,317.95 L1084.0,316.18 L1085.0,314.44 L1086.0,312.67 L1087.0,310.80 L1088.0,308.80 L1089.0,306.63 L1090.0,304.28 L1091.0,301.75 L1092.0,299.08 L1093.0,296.30 L1094.0,293.49 L1095.0,290.71 L1096.0,288.06 L1097.0,285.62 L1098.0,283.48 L1099.0,281.72 L1100.0,280.43 L1101.0,279.65 L1102.0,279.43 L1103.0,279.78 L1104.0,280.70 L1105.0,282.16 L1106.0,284.12 L1107.0,286.50 L1108.0,289.22 L1109.0,292.19 L1110.0,295.30 L1111.0,298.45 L1112.0,301.55 L1113.0,304.51 L1114.0,307.26 L1115.0,309.77 L1116.0,312.02 L1117.0,314.02 L1118.0,315.80 L1119.0,317.42 L1120.0,318.95 L1121.0,320.46 L1122.0,322.03 L1123.0,323.73 L1124.0,325.61 L1125.0,327.70 L1126.0,330.02 L1127.0,332.56 L1128.0,335.28 L1129.0,338.16 L1130.0,341.14 L1131.0,344.17 L1132.0,347.20 L1133.0,350.20 L1134.0,353.13 L1135.0,355.97 L1136.0,358.72 L1137.0,361.36 L1138.0,363.91 L1139.0,366.37 L1140.0,368.75 L1141.0,371.04 L1142.0,373.26 L1143.0,375.40 L1144.0,377.45 L1145.0,379.41 L1146.0,381.26 L1147.0,383.00 L1148.0,384.63 L1149.0,386.15 L1150.0,387.57 L1151.0,388.93 L1152.0,390.24 L1153.0,391.55 L1154.0,392.88 L1155.0,394.26 L1156.0,395.71 L1157.0,397.23 L1158.0,398.82 L1159.0,400.45 L1160.0,402.10 L1161.0,403.73 L1162.0,405.30 L1163.0,406.79 L1164.0,408.15 L1165.0,409.39 L1166.0,410.48 L1167.0,411.43 L1168.0,412.24 L1169.0,412.93 L1170.0,413.51 L1171.0,414.00 L1172.0,414.41 L1173.0,414.75 L1174.0,415.04 L1175.0,415.28 L1176.0,415.49 L1177.0,415.67 L1178.0,415.82 L1179.0,415.95 L1180.0,416.06 L1181.0,416.16 L1182.0,416.24 L1183.0,416.32 L1184.0,416.38 L1185.0,416.43 L1186.0,416.48 L1187.0,416.52 L1188.0,416.56 L1189.0,416.59 L1190.0,416.61 L1191.0,416.64 L1192.0,416.66 L1193.0,416.68 L1195.0,416.70 L1196.0,416.72 L1198.0,416.74 L1201.0,416.76 L1206.0,416.78 L1209.0,416.78 L1210.0,416.79 L1288.0,416.80" fill="none" stroke="#ec0c0c" stroke-width="3.0" stroke-linejoin="round" stroke-linecap="square" clip-path="url(#c2)"/>
<path d="M924.0,417.40 L982.0,417.40 L983.0,417.39 L988.0,417.39 L989.0,417.38 L991.0,417.38 L992.0,417.37 L993.0,417.37 L994.0,417.36 L995.0,417.35 L996.0,417.34 L997.0,417.33 L998.0,417.32 L999.0,417.31 L1000.0,417.29 L1001.0,417.27 L1002.0,417.25 L1003.0,417.22 L1004.0,417.19 L1005.0,417.15 L1006.0,417.11 L1007.0,417.06 L1008.0,417.01 L1009.0,416.94 L1010.0,416.86 L1011.0,416.78 L1012.0,416.68 L1013.0,416.57 L1014.0,416.44 L1015.0,416.28 L1016.0,416.11 L1017.0,415.92 L1018.0,415.69 L1019.0,415.45 L1020.0,415.17 L1021.0,414.88 L1022.0,414.55 L1023.0,414.20 L1024.0,413.82 L1025.0,413.42 L1026.0,413.00 L1027.0,412.53 L1028.0,412.02" fill="none" stroke="#0400e6" stroke-width="3.0" stroke-linejoin="round" stroke-linecap="butt" clip-path="url(#c2)"/>
<path d="M1153.0,412.19 L1154.0,412.73 L1155.0,413.22 L1156.0,413.67 L1157.0,414.10 L1158.0,414.48 L1159.0,414.85 L1160.0,415.18 L1161.0,415.48 L1162.0,415.76 L1163.0,415.98 L1164.0,416.19 L1165.0,416.37 L1166.0,416.52 L1167.0,416.65 L1168.0,416.77 L1169.0,416.86 L1170.0,416.94 L1171.0,417.02 L1172.0,417.08 L1173.0,417.13 L1174.0,417.17 L1175.0,417.20 L1176.0,417.24 L1177.0,417.26 L1178.0,417.29 L1179.0,417.30 L1180.0,417.32 L1181.0,417.33 L1182.0,417.34 L1183.0,417.35 L1184.0,417.36 L1185.0,417.37 L1186.0,417.37 L1187.0,417.38 L1189.0,417.38 L1190.0,417.39 L1195.0,417.39 L1196.0,417.40 L1288.0,417.40" fill="none" stroke="#0400e6" stroke-width="3.0" stroke-linejoin="round" stroke-linecap="butt" clip-path="url(#c2)"/>
<path d="M924.0,416.80 L988.0,416.79 L989.0,416.78 L994.0,416.76 L996.0,416.74 L998.0,416.72 L999.0,416.71 L1000.0,416.69 L1001.0,416.67 L1002.0,416.65 L1003.0,416.62 L1004.0,416.60 L1005.0,416.56 L1006.0,416.52 L1007.0,416.48 L1008.0,416.43 L1009.0,416.37 L1010.0,416.30 L1011.0,416.23 L1012.0,416.14 L1013.0,416.05 L1014.0,415.94 L1015.0,415.81 L1016.0,415.67 L1017.0,415.52 L1018.0,415.34 L1019.0,415.15 L1020.0,414.92 L1021.0,414.68 L1022.0,414.41 L1023.0,414.10 L1024.0,413.76 L1025.0,413.39 L1026.0,412.98 L1027.0,412.52 L1028.0,412.02 L1029.0,411.47 L1030.0,410.86 L1031.0,410.19 L1032.0,409.46 L1033.0,408.66 L1034.0,407.78 L1035.0,406.83 L1036.0,405.78 L1037.0,404.64 L1038.0,403.40 L1039.0,402.05 L1040.0,400.58 L1041.0,399.00 L1042.0,397.29 L1043.0,395.46 L1044.0,393.50 L1045.0,391.42 L1046.0,389.23 L1047.0,386.92 L1048.0,384.51 L1049.0,382.02 L1050.0,379.44 L1051.0,376.80 L1052.0,374.10 L1053.0,371.35 L1054.0,368.57 L1055.0,365.75 L1056.0,362.90 L1057.0,360.03 L1058.0,357.12 L1059.0,354.18 L1060.0,351.21 L1061.0,348.19 L1062.0,345.13 L1063.0,342.04 L1064.0,338.90 L1065.0,335.73 L1066.0,332.53 L1067.0,329.32 L1068.0,326.10 L1069.0,322.88 L1070.0,319.69 L1071.0,316.54 L1072.0,313.45 L1073.0,310.43 L1074.0,307.50 L1075.0,304.67 L1076.0,301.96 L1077.0,299.38 L1078.0,296.95 L1079.0,294.68 L1080.0,292.58 L1081.0,290.66 L1082.0,288.93 L1083.0,287.40 L1084.0,286.07 L1085.0,284.95 L1086.0,284.04 L1087.0,283.35 L1088.0,282.88 L1089.0,282.63 L1090.0,282.59 L1091.0,282.77 L1092.0,283.17 L1093.0,283.77 L1094.0,284.58 L1095.0,285.59 L1096.0,286.79 L1097.0,288.18 L1098.0,289.74 L1099.0,291.48 L1100.0,293.37 L1101.0,295.41 L1102.0,297.59 L1103.0,299.90 L1104.0,302.34 L1105.0,304.88 L1106.0,307.52 L1107.0,310.26 L1108.0,313.07 L1109.0,315.96 L1110.0,318.90 L1111.0,321.90 L1112.0,324.94 L1113.0,328.02 L1114.0,331.12 L1115.0,334.24 L1116.0,337.37 L1117.0,340.50 L1118.0,343.63 L1119.0,346.74 L1120.0,349.84 L1121.0,352.90 L1122.0,355.94 L1123.0,358.93 L1124.0,361.87 L1125.0,364.77 L1126.0,367.60 L1127.0,370.38 L1128.0,373.08 L1129.0,375.71 L1130.0,378.27 L1131.0,380.74 L1132.0,383.12 L1133.0,385.42 L1134.0,387.63 L1135.0,389.74 L1136.0,391.76 L1137.0,393.68 L1138.0,395.51 L1139.0,397.24 L1140.0,398.87 L1141.0,400.40 L1142.0,401.84 L1143.0,403.19 L1144.0,404.45 L1145.0,405.62 L1146.0,406.70 L1147.0,407.70 L1148.0,408.63 L1149.0,409.48 L1150.0,410.25 L1151.0,410.96 L1152.0,411.60 L1153.0,412.19 L1154.0,412.72 L1155.0,413.20 L1156.0,413.62 L1157.0,414.01 L1158.0,414.35 L1159.0,414.66 L1160.0,414.93 L1161.0,415.17 L1162.0,415.39 L1163.0,415.57 L1164.0,415.74 L1165.0,415.88 L1166.0,416.01 L1167.0,416.12 L1168.0,416.22 L1169.0,416.30 L1170.0,416.37 L1171.0,416.44 L1172.0,416.49 L1173.0,416.54 L1174.0,416.58 L1175.0,416.61 L1176.0,416.64 L1177.0,416.66 L1178.0,416.69 L1179.0,416.70 L1180.0,416.72 L1182.0,416.74 L1184.0,416.76 L1187.0,416.78 L1189.0,416.78 L1190.0,416.79 L1288.0,416.80" fill="none" stroke="#0400e6" stroke-width="3.0" stroke-linejoin="round" stroke-linecap="square" clip-path="url(#c2)"/>
<path d="M924.0,416.83 L925.0,416.78 L926.0,416.73 L927.0,416.67 L928.0,416.61 L929.0,416.54 L930.0,416.45 L931.0,416.38 L932.0,416.28 L933.0,416.19 L934.0,416.08 L935.0,415.97 L936.0,415.86 L937.0,415.72 L938.0,415.58 L939.0,415.44 L940.0,415.28 L941.0,415.12 L942.0,414.95 L943.0,414.77 L944.0,414.58 L945.0,414.38 L946.0,414.17 L947.0,413.96 L948.0,413.74 L949.0,413.52 L950.0,413.29 L951.0,413.04 L952.0,412.78 L953.0,412.52 L954.0,412.24 L955.0,411.95" fill="none" stroke="#167816" stroke-width="3.0" stroke-linejoin="round" stroke-linecap="butt" clip-path="url(#c2)"/>
<path d="M1162.0,412.00 L1163.0,412.25 L1164.0,412.50 L1165.0,412.74 L1166.0,412.96 L1167.0,413.18 L1168.0,413.39 L1169.0,413.59 L1170.0,413.80 L1171.0,413.98 L1172.0,414.17 L1173.0,414.35 L1174.0,414.52 L1175.0,414.70 L1176.0,414.85 L1177.0,415.01 L1178.0,415.16 L1179.0,415.30 L1180.0,415.43 L1181.0,415.57 L1182.0,415.69 L1183.0,415.81 L1184.0,415.91 L1185.0,416.02 L1186.0,416.11 L1187.0,416.21 L1188.0,416.29 L1189.0,416.37 L1190.0,416.44 L1191.0,416.51 L1192.0,416.57 L1193.0,416.63 L1194.0,416.69 L1195.0,416.75 L1196.0,416.79 L1197.0,416.84 L1198.0,416.88 L1199.0,416.92 L1200.0,416.95 L1201.0,416.99 L1202.0,417.02 L1203.0,417.05 L1204.0,417.08 L1205.0,417.10 L1206.0,417.12 L1207.0,417.14 L1208.0,417.16 L1209.0,417.18 L1210.0,417.20 L1211.0,417.22 L1212.0,417.23 L1213.0,417.25 L1214.0,417.26 L1215.0,417.27 L1216.0,417.28 L1217.0,417.29 L1218.0,417.30 L1219.0,417.31 L1220.0,417.32 L1221.0,417.32 L1222.0,417.33 L1223.0,417.33 L1224.0,417.34 L1225.0,417.34 L1226.0,417.35 L1227.0,417.35 L1228.0,417.36 L1230.0,417.36 L1231.0,417.37 L1233.0,417.37 L1234.0,417.38 L1239.0,417.38 L1240.0,417.39 L1250.0,417.39 L1251.0,417.40 L1288.0,417.40" fill="none" stroke="#167816" stroke-width="3.0" stroke-linejoin="round" stroke-linecap="butt" clip-path="url(#c2)"/>
<path d="M924.0,416.27 L925.0,416.23 L926.0,416.18 L927.0,416.13 L928.0,416.08 L929.0,416.02 L930.0,415.95 L931.0,415.89 L932.0,415.81 L933.0,415.74 L934.0,415.65 L935.0,415.56 L936.0,415.47 L937.0,415.36 L938.0,415.25 L939.0,415.14 L940.0,415.01 L941.0,414.88 L942.0,414.74 L943.0,414.59 L944.0,414.43 L945.0,414.26 L946.0,414.08 L947.0,413.89 L948.0,413.69 L949.0,413.48 L950.0,413.26 L951.0,413.02 L952.0,412.77 L953.0,412.51 L954.0,412.24 L955.0,411.95 L956.0,411.65 L957.0,411.34 L958.0,411.01 L959.0,410.66 L960.0,410.31 L961.0,409.94 L962.0,409.55 L963.0,409.15 L964.0,408.73 L965.0,408.30 L966.0,407.85 L967.0,407.39 L968.0,406.92 L969.0,406.43 L970.0,405.92 L971.0,405.40 L972.0,404.87 L973.0,404.32 L974.0,403.76 L975.0,403.19 L976.0,402.61 L977.0,402.01 L978.0,401.40 L979.0,400.77 L980.0,400.14 L981.0,399.49 L982.0,398.84 L983.0,398.17 L984.0,397.49 L985.0,396.81 L986.0,396.11 L987.0,395.40 L988.0,394.69 L989.0,393.97 L990.0,393.23 L991.0,392.49 L992.0,391.74 L993.0,390.99 L994.0,390.22 L995.0,389.45 L996.0,388.67 L997.0,387.89 L998.0,387.09 L999.0,386.29 L1000.0,385.48 L1001.0,384.67 L1002.0,383.85 L1003.0,383.02 L1004.0,382.19 L1005.0,381.35 L1006.0,380.50 L1007.0,379.64 L1008.0,378.78 L1009.0,377.92 L1010.0,377.05 L1011.0,376.17 L1012.0,375.29 L1013.0,374.41 L1014.0,373.52 L1015.0,372.62 L1016.0,371.72 L1017.0,370.83 L1018.0,369.92 L1019.0,369.02 L1020.0,368.11 L1021.0,367.21 L1022.0,366.30 L1023.0,365.40 L1024.0,364.49 L1025.0,363.58 L1026.0,362.68 L1027.0,361.77 L1028.0,360.86 L1029.0,359.95 L1030.0,359.03 L1031.0,358.11 L1032.0,357.18 L1033.0,356.24 L1034.0,355.30 L1035.0,354.35 L1036.0,353.40 L1037.0,352.46 L1038.0,351.53 L1039.0,350.61 L1040.0,349.73 L1041.0,348.88 L1042.0,348.08 L1043.0,347.33 L1044.0,346.65 L1045.0,346.04 L1046.0,345.51 L1047.0,345.04 L1048.0,344.66 L1049.0,344.33 L1050.0,344.07 L1051.0,343.87 L1052.0,343.71 L1053.0,343.58 L1054.0,343.49 L1055.0,343.43 L1056.0,343.38 L1057.0,343.35 L1058.0,343.34 L1059.0,343.35 L1060.0,343.38 L1061.0,343.43 L1062.0,343.50 L1063.0,343.59 L1064.0,343.72 L1065.0,343.87 L1066.0,344.06 L1067.0,344.28 L1068.0,344.54 L1069.0,344.83 L1070.0,345.15 L1071.0,345.51 L1072.0,345.91 L1073.0,346.34 L1074.0,346.80 L1075.0,347.30 L1076.0,347.83 L1077.0,348.40 L1078.0,348.99 L1079.0,349.62 L1080.0,350.28 L1081.0,350.96 L1082.0,351.67 L1083.0,352.41 L1084.0,353.18 L1085.0,353.97 L1086.0,354.78 L1087.0,355.61 L1088.0,356.46 L1089.0,357.33 L1090.0,358.22 L1091.0,359.12 L1092.0,360.03 L1093.0,360.95 L1094.0,361.88 L1095.0,362.81 L1096.0,363.74 L1097.0,364.67 L1098.0,365.59 L1099.0,366.51 L1100.0,367.42 L1101.0,368.31 L1102.0,369.20 L1103.0,370.07 L1104.0,370.92 L1105.0,371.77 L1106.0,372.60 L1107.0,373.44 L1108.0,374.27 L1109.0,375.10 L1110.0,375.95 L1111.0,376.81 L1112.0,377.69 L1113.0,378.60 L1114.0,379.53 L1115.0,380.49 L1116.0,381.48 L1117.0,382.49 L1118.0,383.53 L1119.0,384.58 L1120.0,385.65 L1121.0,386.73 L1122.0,387.80 L1123.0,388.87 L1124.0,389.93 L1125.0,390.96 L1126.0,391.97 L1127.0,392.96 L1128.0,393.91 L1129.0,394.83 L1130.0,395.72 L1131.0,396.57 L1132.0,397.39 L1133.0,398.18 L1134.0,398.94 L1135.0,399.67 L1136.0,400.37 L1137.0,401.04 L1138.0,401.69 L1139.0,402.32 L1140.0,402.92 L1141.0,403.51 L1142.0,404.07 L1143.0,404.62 L1144.0,405.15 L1145.0,405.66 L1146.0,406.15 L1147.0,406.63 L1148.0,407.09 L1149.0,407.53 L1150.0,407.96 L1151.0,408.38 L1152.0,408.77 L1153.0,409.16 L1154.0,409.53 L1155.0,409.88 L1156.0,410.22 L1157.0,410.55 L1158.0,410.86 L1159.0,411.17 L1160.0,411.45 L1161.0,411.73 L1162.0,412.00 L1163.0,412.25 L1164.0,412.49 L1165.0,412.73 L1166.0,412.95 L1167.0,413.16 L1168.0,413.36 L1169.0,413.55 L1170.0,413.74 L1171.0,413.91 L1172.0,414.08 L1173.0,414.23 L1174.0,414.38 L1175.0,414.53 L1176.0,414.66 L1177.0,414.79 L1178.0,414.91 L1179.0,415.03 L1180.0,415.13 L1181.0,415.24 L1182.0,415.34 L1183.0,415.43 L1184.0,415.51 L1185.0,415.60 L1186.0,415.67 L1187.0,415.75 L1188.0,415.82 L1189.0,415.88 L1190.0,415.94 L1191.0,416.00 L1192.0,416.05 L1193.0,416.10 L1194.0,416.15 L1195.0,416.20 L1196.0,416.24 L1197.0,416.28 L1198.0,416.31 L1199.0,416.35 L1200.0,416.38 L1201.0,416.41 L1202.0,416.44 L1203.0,416.47 L1204.0,416.49 L1205.0,416.51 L1206.0,416.53 L1207.0,416.55 L1208.0,416.57 L1209.0,416.59 L1210.0,416.61 L1212.0,416.63 L1213.0,416.65 L1214.0,416.66 L1216.0,416.68 L1218.0,416.70 L1219.0,416.71 L1220.0,416.72 L1224.0,416.74 L1228.0,416.76 L1234.0,416.78 L1239.0,416.78 L1240.0,416.79 L1288.0,416.80" fill="none" stroke="#167816" stroke-width="3.0" stroke-linejoin="round" stroke-linecap="square" clip-path="url(#c2)"/>
<line x1="1099.0" y1="43.685" x2="1099.0" y2="454.0" stroke="#000" stroke-width="3.2" stroke-dasharray="2.4 5.015" clip-path="url(#c2)"/>
<rect x="1375.85" y="409.25" width="27.25" height="44.75" fill="#87cefa" stroke="#4169e1" stroke-width="1.5999999999999999"/>
<rect x="1403.1" y="375.05" width="28.25" height="78.95" fill="#f4a460" stroke="#f01c14" stroke-width="1.9"/>
<rect x="1512.35" y="407.95" width="27.85" height="46.05" fill="#87cefa" stroke="#4169e1" stroke-width="1.5999999999999999"/>
<rect x="1540.2" y="274.35" width="27.75" height="179.65" fill="#f4a460" stroke="#f01c14" stroke-width="1.9"/>
<rect x="1650.15" y="337.25" width="28.00" height="116.75" fill="#87cefa" stroke="#4169e1" stroke-width="1.5999999999999999"/>
<rect x="1678.15" y="157.85" width="27.05" height="296.15" fill="#f4a460" stroke="#f01c14" stroke-width="1.9"/>
<rect x="1546.2" y="73.3" width="52.7" height="18.5" fill="#87cefa" stroke="#4169e1" stroke-width="1.5999999999999999"/>
<rect x="1546.2" y="112.0" width="52.7" height="18.5" fill="#f4a460" stroke="#f01c14" stroke-width="1.9"/>
<text x="1618.7" y="91.4" font-size="25.4">PI-INN</text>
<text x="1618.7" y="130.3" font-size="25.4">cINN</text>
<rect x="54.5" y="48.4" width="361.90" height="405.60" fill="none" stroke="#000" stroke-width="1.2"/>
<rect x="489.2" y="48.4" width="362.10" height="405.60" fill="none" stroke="#000" stroke-width="1.2"/>
<rect x="924.3" y="48.4" width="362.80" height="405.60" fill="none" stroke="#000" stroke-width="1.2"/>
<rect x="1359.3" y="48.4" width="363.00" height="405.60" fill="none" stroke="#000" stroke-width="1.2"/>
<line x1="70.1" y1="454.0" x2="70.1" y2="461.4" stroke="#000" stroke-width="1.2"/>
<text x="69.10" y="483.9" font-size="22.0" text-anchor="middle">0.0</text>
<line x1="180.6" y1="454.0" x2="180.6" y2="461.4" stroke="#000" stroke-width="1.2"/>
<text x="179.60" y="483.9" font-size="22.0" text-anchor="middle">1.0</text>
<line x1="290.6" y1="454.0" x2="290.6" y2="461.4" stroke="#000" stroke-width="1.2"/>
<text x="289.60" y="483.9" font-size="22.0" text-anchor="middle">2.0</text>
<line x1="400.8" y1="454.0" x2="400.8" y2="461.4" stroke="#000" stroke-width="1.2"/>
<text x="399.80" y="483.9" font-size="22.0" text-anchor="middle">3.0</text>
<line x1="47.1" y1="48.4" x2="54.5" y2="48.4" stroke="#000" stroke-width="1.2"/>
<text x="38.90" y="57.67" font-size="25.6" text-anchor="end">4.0</text>
<line x1="47.1" y1="242.3" x2="54.5" y2="242.3" stroke="#000" stroke-width="1.2"/>
<text x="40.60" y="251.57" font-size="25.6" text-anchor="end">2.0</text>
<line x1="47.1" y1="434.9" x2="54.5" y2="434.9" stroke="#000" stroke-width="1.2"/>
<text x="39.00" y="444.17" font-size="25.6" text-anchor="end">0.0</text>
<line x1="540.9" y1="454.0" x2="540.9" y2="461.4" stroke="#000" stroke-width="1.2"/>
<text x="540.30" y="483.9" font-size="22.0" text-anchor="middle">1.0</text>
<line x1="644.9" y1="454.0" x2="644.9" y2="461.4" stroke="#000" stroke-width="1.2"/>
<text x="644.30" y="483.9" font-size="22.0" text-anchor="middle">2.0</text>
<line x1="748.0" y1="454.0" x2="748.0" y2="461.4" stroke="#000" stroke-width="1.2"/>
<text x="747.40" y="483.9" font-size="22.0" text-anchor="middle">3.0</text>
<line x1="481.8" y1="48.4" x2="489.2" y2="48.4" stroke="#000" stroke-width="1.2"/>
<text x="475.30" y="57.67" font-size="25.6" text-anchor="end">3.0</text>
<line x1="481.8" y1="238.9" x2="489.2" y2="238.9" stroke="#000" stroke-width="1.2"/>
<text x="475.30" y="248.17" font-size="25.6" text-anchor="end">1.5</text>
<line x1="481.8" y1="429.1" x2="489.2" y2="429.1" stroke="#000" stroke-width="1.2"/>
<text x="475.30" y="438.37" font-size="25.6" text-anchor="end">0.0</text>
<line x1="924.3" y1="454.0" x2="924.3" y2="461.4" stroke="#000" stroke-width="1.2"/>
<text x="924.50" y="483.9" font-size="22.0" text-anchor="middle">0.0</text>
<line x1="1105.7" y1="454.0" x2="1105.7" y2="461.4" stroke="#000" stroke-width="1.2"/>
<text x="1105.90" y="483.9" font-size="22.0" text-anchor="middle">4.0</text>
<line x1="1287.1" y1="454.0" x2="1287.1" y2="461.4" stroke="#000" stroke-width="1.2"/>
<text x="1287.30" y="483.9" font-size="22.0" text-anchor="middle">8.0</text>
<line x1="916.9" y1="48.4" x2="924.3" y2="48.4" stroke="#000" stroke-width="1.2"/>
<text x="910.40" y="57.67" font-size="25.6" text-anchor="end">2.0</text>
<line x1="916.9" y1="232.7" x2="924.3" y2="232.7" stroke="#000" stroke-width="1.2"/>
<text x="910.40" y="241.97" font-size="25.6" text-anchor="end">1.0</text>
<line x1="916.9" y1="417.0" x2="924.3" y2="417.0" stroke="#000" stroke-width="1.2"/>
<text x="910.40" y="426.27" font-size="25.6" text-anchor="end">0.0</text>
<line x1="1396.4" y1="454.0" x2="1396.4" y2="461.4" stroke="#000" stroke-width="1.2"/>
<text x="1396.10" y="487.2" font-size="25.5" text-anchor="middle">x=0.25</text>
<line x1="1534.1" y1="454.0" x2="1534.1" y2="461.4" stroke="#000" stroke-width="1.2"/>
<text x="1533.80" y="487.2" font-size="25.5" text-anchor="middle">x=0.50</text>
<line x1="1670.9" y1="454.0" x2="1670.9" y2="461.4" stroke="#000" stroke-width="1.2"/>
<text x="1670.60" y="487.2" font-size="25.5" text-anchor="middle">x=0.75</text>
<line x1="1351.8999999999999" y1="48.4" x2="1359.3" y2="48.4" stroke="#000" stroke-width="1.2"/>
<text x="1345.40" y="57.67" font-size="25.6" text-anchor="end">1.0</text>
<line x1="1351.8999999999999" y1="251.4" x2="1359.3" y2="251.4" stroke="#000" stroke-width="1.2"/>
<text x="1345.40" y="260.67" font-size="25.6" text-anchor="end">0.5</text>
<line x1="1351.8999999999999" y1="454.0" x2="1359.3" y2="454.0" stroke="#000" stroke-width="1.2"/>
<text x="1345.40" y="463.27" font-size="25.6" text-anchor="end">0.0</text>
<text x="234.7" y="27.4" font-size="37.5" text-anchor="middle">x = 0.25</text>
<text x="670" y="27.4" font-size="37.5" text-anchor="middle">x = 0.50</text>
<text x="1105" y="27.4" font-size="37.5" text-anchor="middle">x = 0.75</text>
<text x="1540.6" y="29.7" font-size="33.6" text-anchor="middle">Wasserstein Distance</text>
<line x1="76.5" y1="83.4" x2="131.5" y2="83.4" stroke="#ec0c0c" stroke-width="3.2"/>
<text x="150.8" y="91.4" font-size="25.4">ABC</text>
<line x1="76.5" y1="121.4" x2="131.5" y2="121.4" stroke="#0400e6" stroke-width="3.2"/>
<text x="150.8" y="130.4" font-size="25.4">PI-INN</text>
<line x1="76.5" y1="160.4" x2="131.5" y2="160.4" stroke="#167816" stroke-width="3.2"/>
<text x="150.8" y="169.1" font-size="25.4">cINN</text>
<line x1="511.2" y1="83.4" x2="566.2" y2="83.4" stroke="#ec0c0c" stroke-width="3.2"/>
<text x="585.5" y="91.4" font-size="25.4">ABC</text>
<line x1="511.2" y1="121.4" x2="566.2" y2="121.4" stroke="#0400e6" stroke-width="3.2"/>
<text x="585.5" y="130.4" font-size="25.4">PI-INN</text>
<line x1="511.2" y1="160.4" x2="566.2" y2="160.4" stroke="#167816" stroke-width="3.2"/>
<text x="585.5" y="169.1" font-size="25.4">cINN</text>
<line x1="946.3" y1="83.4" x2="1001.3" y2="83.4" stroke="#ec0c0c" stroke-width="3.2"/>
<text x="1021.6" y="91.4" font-size="25.4">ABC</text>
<line x1="946.3" y1="121.4" x2="1001.3" y2="121.4" stroke="#0400e6" stroke-width="3.2"/>
<text x="1021.6" y="130.4" font-size="25.4">PI-INN</text>
<line x1="946.3" y1="160.4" x2="1001.3" y2="160.4" stroke="#167816" stroke-width="3.2"/>
<text x="1021.6" y="169.1" font-size="25.4">cINN</text>
</svg>
</body></html>
